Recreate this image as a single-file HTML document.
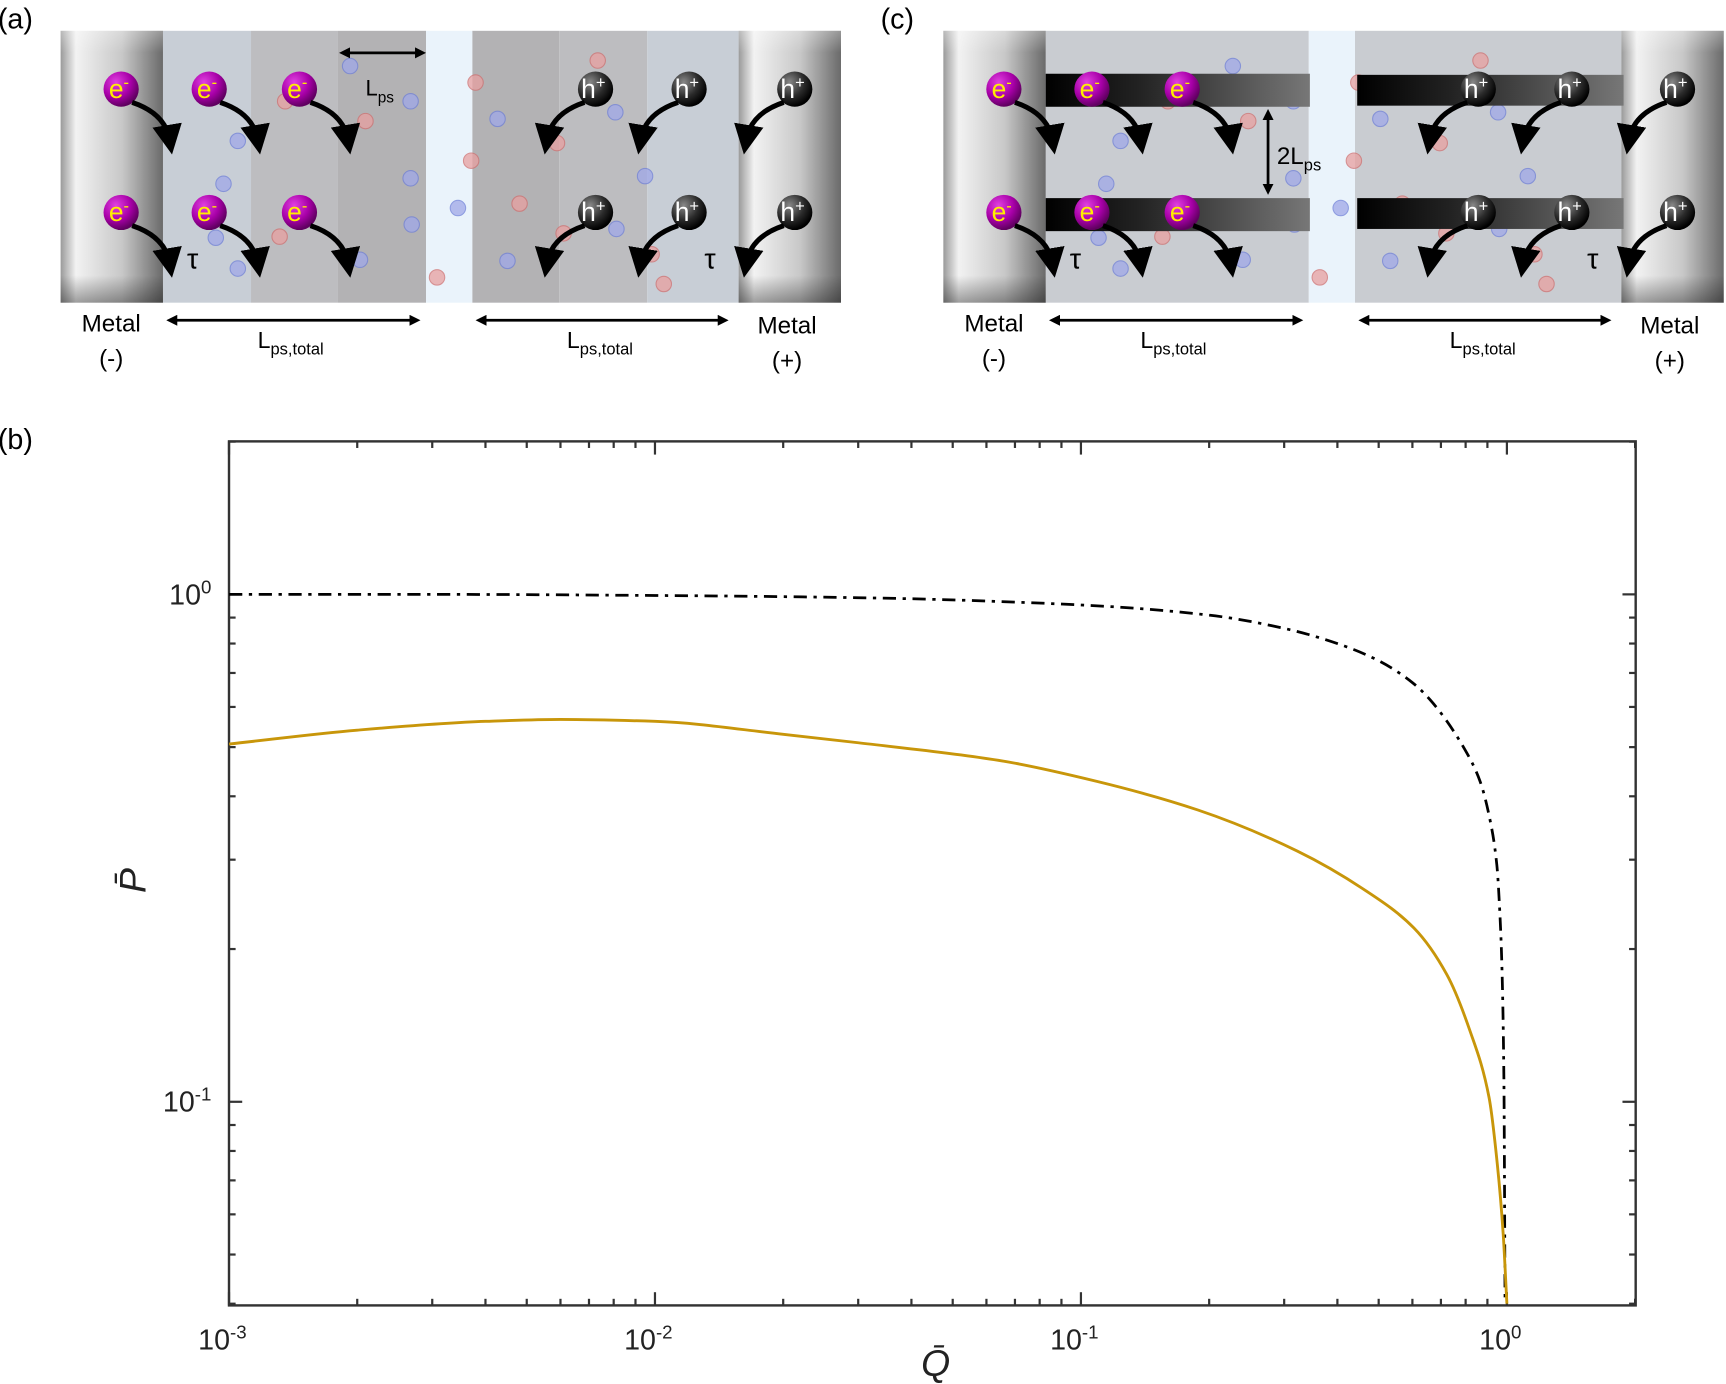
<!DOCTYPE html>
<html><head><meta charset="utf-8"><style>
html,body{margin:0;padding:0;background:#fff;}
svg{display:block;}
text{font-family:"Liberation Sans",sans-serif;}
</style></head><body>
<svg id="fig" width="1726" height="1384" viewBox="0 0 1568 1257.4" xmlns="http://www.w3.org/2000/svg">
<defs>
<radialGradient id="eg" cx="35%" cy="30%" r="70%"><stop offset="0" stop-color="#e040e0"/><stop offset="0.6" stop-color="#a800a8"/><stop offset="1" stop-color="#600060"/></radialGradient>
<radialGradient id="hg" cx="35%" cy="30%" r="70%"><stop offset="0" stop-color="#888"/><stop offset="0.6" stop-color="#2a2a2a"/><stop offset="1" stop-color="#000"/></radialGradient>
<linearGradient id="metal" x1="0" x2="1"><stop offset="0" stop-color="#9a9a9a"/><stop offset="0.15" stop-color="#f2f2f2"/><stop offset="0.6" stop-color="#c8c8c8"/><stop offset="1" stop-color="#6a6a6a"/></linearGradient>
<linearGradient id="metalV" x1="0" y1="0" x2="0" y2="1"><stop offset="0" stop-color="#fff" stop-opacity="0.3"/><stop offset="0.08" stop-color="#fff" stop-opacity="0"/><stop offset="0.9" stop-color="#000" stop-opacity="0"/><stop offset="1" stop-color="#000" stop-opacity="0.35"/></linearGradient>
<linearGradient id="barL" x1="0" x2="1"><stop offset="0" stop-color="#000"/><stop offset="0.35" stop-color="#222"/><stop offset="1" stop-color="#777"/></linearGradient>
<marker id="ah" markerWidth="6" markerHeight="6" refX="3" refY="3" orient="auto" markerUnits="strokeWidth"><path d="M0,0 L6,3 L0,6 Z" fill="#000"/></marker>
<marker id="ah2" markerWidth="4" markerHeight="4" refX="2" refY="2" orient="auto-start-reverse" markerUnits="strokeWidth"><path d="M0,0 L4,2 L0,4 Z" fill="#000"/></marker>
</defs>
<g id="panels"></g>
<g id="chart"></g>
</svg>
<script>
// ----- chart data -----
const qDash = [0.001,0.003,0.01,0.03,0.1,0.2,0.3,0.4,0.5,0.6,0.66,0.794,0.865,0.908,0.947,0.963,0.973,0.984,0.99];
const pDash = [1.0,1.0,0.995,0.985,0.953,0.91,0.857,0.8,0.74,0.67,0.62,0.497,0.428,0.367,0.293,0.234,0.187,0.11,0.04];
const qGold = [0.001,0.002,0.004,0.006,0.01,0.02,0.03,0.064,0.109,0.188,0.322,0.462,0.605,0.723,0.819,0.908,0.95,0.98,1.0];
const pGold = [0.507,0.54,0.562,0.567,0.562,0.53,0.51,0.471,0.428,0.376,0.312,0.262,0.22,0.178,0.138,0.102,0.075,0.055,0.04];
const xTickExps = [-3,-2,-1,0];
const yTickExps = [-1,0];

const NS="http://www.w3.org/2000/svg";
function mk(tag,attrs,parent){const e=document.createElementNS(NS,tag);for(const k in attrs)e.setAttribute(k,attrs[k]);parent.appendChild(e);return e;}
const chart=document.getElementById('chart');
const L=208,R=1486,T=401,B=1186;
const xLog=v=>L+(Math.log10(v)+3)*((1369-208)/3);
const yLog=v=>540-(Math.log10(v))*(1001-540);
const frame=mk('rect',{x:L,y:T,width:R-L,height:B-T,fill:'none',stroke:'#333',"stroke-width":2.2},chart);


for(let e=-3;e<=0;e++){
  for(let m=1;m<=9;m++){
    const v=m*Math.pow(10,e); const x=xLog(v); if(x<L-0.5||x>R+0.5)continue;
    const len=m===1?12:6;
    mk('line',{x1:x,y1:B,x2:x,y2:B-len,stroke:'#333',"stroke-width":2},chart);
    mk('line',{x1:x,y1:T,x2:x,y2:T+len,stroke:'#333',"stroke-width":2},chart);
  }
}
[2].forEach(m=>{const x=xLog(m);mk('line',{x1:x,y1:B,x2:x,y2:B-6,stroke:'#333',"stroke-width":2},chart);mk('line',{x1:x,y1:T,x2:x,y2:T+6,stroke:'#333',"stroke-width":2},chart);});
for(let e=-2;e<=0;e++){
  for(let m=1;m<=9;m++){
    const v=m*Math.pow(10,e); const y=yLog(v); if(y<T-0.5||y>B+0.5)continue;
    const len=m===1?12:6;
    mk('line',{x1:L,y1:y,x2:L+len,y2:y,stroke:'#333',"stroke-width":2},chart);
    mk('line',{x1:R,y1:y,x2:R-len,y2:y,stroke:'#333',"stroke-width":2},chart);
  }
}
xTickExps.forEach(e=>{
  const t=mk('text',{x:xLog(Math.pow(10,e))-6,y:1226,"text-anchor":"middle","font-size":26,fill:'#222'},chart);
  
  
  t.innerHTML='10<tspan dy="-10" font-size="17">'+e+'</tspan>';
});
yTickExps.forEach(e=>{
  const t=mk('text',{x:192,y:yLog(Math.pow(10,e))+9,"text-anchor":"end","font-size":26,fill:'#222'},chart);
  
  
  t.innerHTML='10<tspan dy="-10" font-size="17">'+e+'</tspan>';
});
const xt=mk('text',{x:850,y:1250,"text-anchor":"middle","font-size":34,"font-style":"italic","font-family":"Liberation Serif, serif",fill:'#222'},chart);


xt.textContent='Q̄';
const yt=mk('text',{x:0,y:0,transform:'translate(132,800) rotate(-90)',"text-anchor":"middle","font-size":34,"font-style":"italic","font-family":"Liberation Serif, serif",fill:'#222'},chart);


yt.textContent='P̄';
// monotone cubic (Fritsch-Carlson) in pixel space
function path(qs,ps){
  const X=qs.map(xLog),Y=ps.map(yLog),n=X.length;
  const d=[],m=new Array(n);
  for(let i=0;i<n-1;i++)d.push((Y[i+1]-Y[i])/(X[i+1]-X[i]));
  m[0]=d[0];m[n-1]=d[n-2];
  for(let i=1;i<n-1;i++){
    if(d[i-1]*d[i]<=0)m[i]=0;
    else{const h0=X[i]-X[i-1],h1=X[i+1]-X[i];const w1=2*h1+h0,w2=h1+2*h0;m[i]=(w1+w2)/(w1/d[i-1]+w2/d[i]);}
  }
  let s='M'+X[0].toFixed(2)+','+Y[0].toFixed(2);
  for(let i=0;i<n-1;i++){
    const h=X[i+1]-X[i];
    s+=` C${(X[i]+h/3).toFixed(2)},${(Y[i]+m[i]*h/3).toFixed(2)} ${(X[i+1]-h/3).toFixed(2)},${(Y[i+1]-m[i+1]*h/3).toFixed(2)} ${X[i+1].toFixed(2)},${Y[i+1].toFixed(2)}`;
  }
  return s;
}
const clip=mk('clipPath',{id:'pc'},chart);mk('rect',{x:L,y:T,width:R-L,height:B-T},clip);
const dl=mk('path',{d:path(qDash,pDash),fill:'none',stroke:'#000',"stroke-width":2.5,"stroke-dasharray":"12 6 3 6","clip-path":"url(#pc)"},chart);


const gl=mk('path',{d:path(qGold,pGold),fill:'none',stroke:'#c8960a',"stroke-width":2.6,"clip-path":"url(#pc)"},chart);



// ----- schematic panels -----
const panels=document.getElementById('panels');
function particle(g,x,y,red){mk('circle',{cx:x,cy:y,r:7,fill:red?'#e8a0a0':'#a0a8e8',stroke:red?'#d07070':'#7080d8',"stroke-width":1,opacity:0.75},g);}
function carrier(g,x,y,isE){
  mk('circle',{cx:x,cy:y,r:16,fill:isE?'url(#eg)':'url(#hg)'},g);
  const t=mk('text',{x:x-2,y:y+8,"text-anchor":"middle","font-size":24,fill:isE?'#ffee00':'#fff'},g);
  t.innerHTML=(isE?'e':'h')+'<tspan dy="-9" font-size="15">'+(isE?'-':'+')+'</tspan>';
  const dir=isE?1:-1;
  mk('path',{d:`M${x+dir*10},${y+12} Q${x+dir*40},${y+22} ${x+dir*44},${y+46}`,fill:'none',stroke:'#000',"stroke-width":4.5,"marker-end":"url(#ah)"},g);
}
function metal(g,x){
  mk('rect',{x:x,y:28,width:93,height:247,fill:'url(#metal)'},g);
  mk('rect',{x:x,y:28,width:93,height:247,fill:'url(#metalV)'},g);
}
function panel(dx,variant,label){
  const g=mk('g',{transform:`translate(${dx},0)`},panels);
  
  
  if(variant==='a'){
    [['148','80','#c8ced6'],['228','79','#bdbdc0'],['307','80','#b3b2b4'],['429','79','#b3b2b4'],['508','80','#bdbdc0'],['588','83','#c8ced6']].forEach(r=>mk('rect',{x:r[0],y:28,width:r[1],height:247,fill:r[2]},g));
  } else {
    mk('rect',{x:148,y:28,width:239,height:247,fill:'#c9ccd1'},g);
    mk('rect',{x:429,y:28,width:242,height:247,fill:'#c9ccd1'},g);
  }
  mk('rect',{x:387,y:28,width:42,height:247,fill:'#eaf3fb'},g);
  metal(g,55);metal(g,671);
  const pts=[[216,128,0],[203,167,0],[196,216,0],[216,244,0],[318,60,0],[373,92,0],[373,162,0],[327,236,0],[374,204,0],[332,110,1],[259,92,1],[254,215,1],[432,75,1],[428,146,1],[397,252,1],[472,185,1],[543,55,1],[559,102,0],[506,130,1],[586,160,0],[452,108,0],[461,237,0],[560,208,0],[512,212,1],[592,231,1],[603,258,1],[416,189,0]];
  pts.forEach(p=>particle(g,p[0],p[1],p[2]));
  if(variant==='c'){
    [[148,67,240,30],[148,180,240,30],[431,68,242,28],[431,180,242,28]].forEach(b=>mk('rect',{x:b[0],y:b[1],width:b[2],height:b[3],fill:'url(#barL)'},g));
    mk('line',{x1:350,y1:104,x2:350,y2:172,stroke:'#000',"stroke-width":2.5,"marker-start":"url(#ah2)","marker-end":"url(#ah2)"},g);
    const t=mk('text',{x:358,y:149,"font-size":22,fill:'#000'},g);t.innerHTML='2L<tspan dy="6" font-size="15">ps</tspan>';
  } else {
    mk('line',{x1:313,y1:48,x2:382,y2:48,stroke:'#000',"stroke-width":2.5,"marker-start":"url(#ah2)","marker-end":"url(#ah2)"},g);
    const t=mk('text',{x:332,y:87,"font-size":20,fill:'#000'},g);t.innerHTML='L<tspan dy="6" font-size="14">ps</tspan>';
  }
  [[110,81],[190,81],[272,81],[110,193],[190,193],[272,193]].forEach(c=>carrier(g,c[0],c[1],true));
  [[541,81],[626,81],[722,81],[541,193],[626,193],[722,193]].forEach(c=>carrier(g,c[0],c[1],false));
  mk('text',{x:175,y:244,"text-anchor":"middle","font-size":26,fill:'#000',"font-family":"Liberation Serif, serif"},g).textContent='τ';
  mk('text',{x:645,y:244,"text-anchor":"middle","font-size":26,fill:'#000',"font-family":"Liberation Serif, serif"},g).textContent='τ';
  mk('line',{x1:156,y1:291,x2:377,y2:291,stroke:'#000',"stroke-width":2.5,"marker-start":"url(#ah2)","marker-end":"url(#ah2)"},g);
  mk('line',{x1:437,y1:291,x2:657,y2:291,stroke:'#000',"stroke-width":2.5,"marker-start":"url(#ah2)","marker-end":"url(#ah2)"},g);
  let t=mk('text',{x:234,y:316,"font-size":21,fill:'#000'},g);t.innerHTML='L<tspan dy="6" font-size="15">ps,total</tspan>';
  t=mk('text',{x:515,y:316,"font-size":21,fill:'#000'},g);t.innerHTML='L<tspan dy="6" font-size="15">ps,total</tspan>';
  mk('text',{x:101,y:301,"text-anchor":"middle","font-size":22,fill:'#000'},g).textContent='Metal';
  mk('text',{x:101,y:333,"text-anchor":"middle","font-size":22,fill:'#000'},g).textContent='(-)';
  mk('text',{x:715,y:303,"text-anchor":"middle","font-size":22,fill:'#000'},g).textContent='Metal';
  mk('text',{x:715,y:335,"text-anchor":"middle","font-size":22,fill:'#000'},g).textContent='(+)';
  const lb=mk('text',{x:-2,y:26,"font-size":26,fill:'#000'},g);
  
  
  lb.textContent=label;
}
panel(0,'a','(a)');
panel(802,'c','(c)');
const bl=mk('text',{x:-2,y:408,"font-size":26,fill:'#000'},panels);


bl.textContent='(b)';
</script>
</body></html>
